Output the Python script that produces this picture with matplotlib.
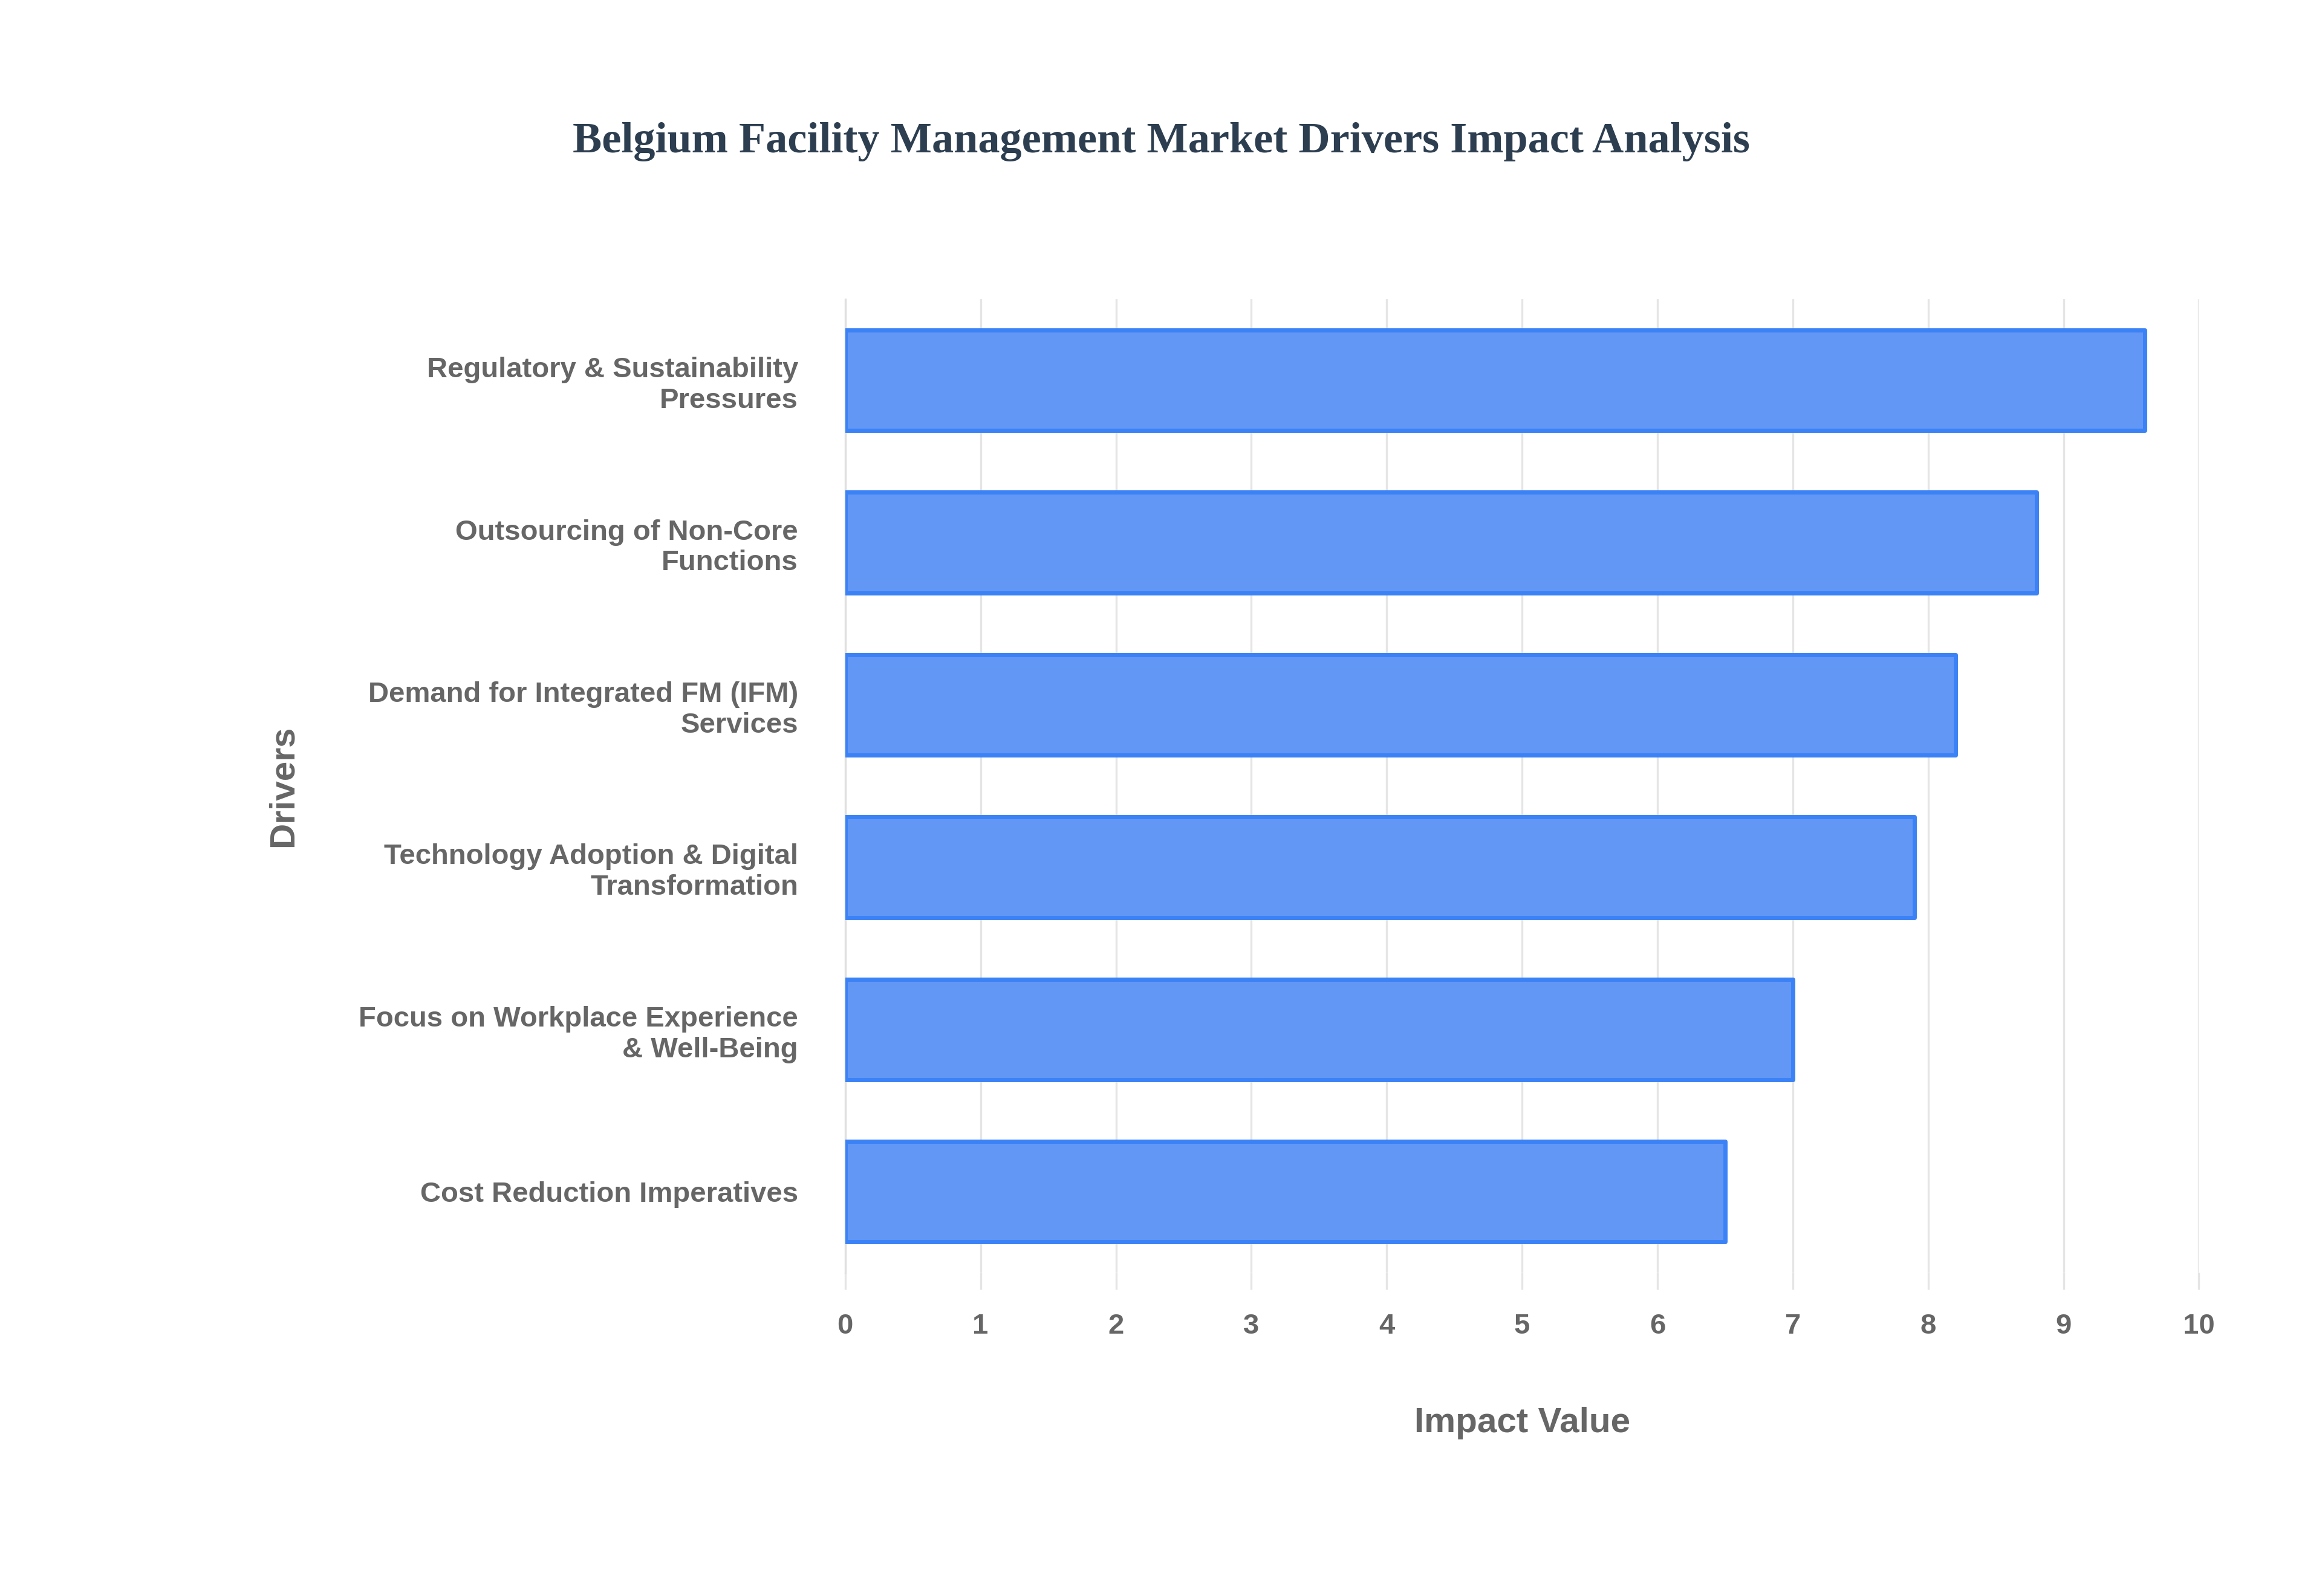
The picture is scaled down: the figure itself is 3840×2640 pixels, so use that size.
import matplotlib
matplotlib.use("Agg")
import matplotlib.pyplot as plt

drivers = ["Regulatory & Sustainability\nPressures",
           "Outsourcing of Non-Core\nFunctions",
           "Demand for Integrated FM (IFM)\nServices",
           "Technology Adoption & Digital\nTransformation",
           "Focus on Workplace Experience\n& Well-Being",
           "Cost Reduction Imperatives"]
values = [9.6, 8.8, 8.2, 7.9, 7.0, 6.5]
xticks = list(range(0, 11))

fig = plt.figure(figsize=(19.2, 13.2), dpi=200)
ax = fig.add_axes([0.364, 0.2025, 0.583, 0.61])
ypos = list(range(len(drivers)))[::-1]
ax.barh(ypos, values, height=0.62, color="#6397f5", edgecolor="#3b82f6",
        linewidth=2.5, joinstyle="round", zorder=3)
ax.set_xlim(0, 10)
ax.set_ylim(-0.5, 5.5)
ax.set_xticks(xticks)
ax.set_yticks(ypos)
ax.set_yticklabels(drivers, ha="right", ma="right")
for lab in ax.get_xticklabels() + ax.get_yticklabels():
    lab.set_family("Liberation Sans"); lab.set_weight("bold"); lab.set_color("#666666"); lab.set_fontsize(17)
ax.tick_params(axis="y", length=0, pad=28)
ax.tick_params(axis="x", length=10, color="#e5e5e5", width=1.2, pad=14)
ax.grid(axis="x", color="#e5e5e5", linewidth=1.2, zorder=0)
for s in ["top", "right", "bottom"]:
    ax.spines[s].set_visible(False)
ax.spines["left"].set_color("#e0e0e0")
ax.spines["left"].set_linewidth(1.2)
ax.set_xlabel("Impact Value", family="Liberation Sans", weight="bold", color="#666666",
              fontsize=21, labelpad=40)
ax.set_ylabel("Drivers", family="Liberation Sans", weight="bold", color="#666666",
              fontsize=21, labelpad=35)
fig.text(0.5, 0.911, "Belgium Facility Management Market Drivers Impact Analysis",
         ha="center", va="center", family="Liberation Serif", weight="bold",
         color="#2c3e50", fontsize=26)
fig.savefig("out.png", dpi=200, facecolor="white")
